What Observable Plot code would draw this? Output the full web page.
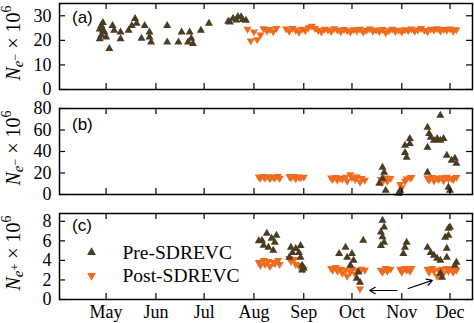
<!DOCTYPE html>
<html><head><meta charset="utf-8">
<script src="https://cdn.jsdelivr.net/npm/d3@7"></script>
<script src="https://cdn.jsdelivr.net/npm/@observablehq/plot@0.6"></script>
<style>
body{margin:0;background:#fff;}
#chart{width:474px;height:323px;overflow:hidden;}
#chart svg{display:block;}
</style></head><body><div id="chart"></div>
<script>
const YEAR = 2019;
const BROWN = "#4a3c22";
const ORANGE = "#f06b1d";
const seriesNames = ["Pre-SDREVC", "Post-SDREVC"];
const panelLabels = ["(a)", "(b)", "(c)"];
const monthTicks = ["05-01","06-01","07-01","08-01","09-01","10-01","11-01","12-01"];
const xDomainStr = ["04-02","12-15"];
const yTicksA = [0,10,20,30];
const yTicksB = [0,20,40,60,80];
const yTicksC = [0,2,4,6,8];
const yDomainA = [0,35];
const yDomainB = [0,80];
const yDomainC = [0,8.8];

// Panel (a): N_e- pre
const preADates = ["04-27","04-27","04-28","04-28","04-29","04-29","04-30","05-01","05-03","05-05","05-06","05-10","05-10","05-15","05-17","05-19","05-20","05-23","05-25","05-28","05-28","05-29","06-08","06-08","06-15","06-17","06-21","06-22","06-23","06-24","06-29","07-04","07-16","07-17","07-19","07-21","07-22","07-24","07-25","07-27"];
const preAValues = [20.6,24.6,26.0,22.0,24.0,27.2,23.3,21.3,16.6,26.0,24.0,23.3,20.6,24.0,26.0,28.8,26.9,20.8,26.0,21.3,23.3,19.3,26.0,19.3,19.3,23.3,19.3,23.3,20.8,18.7,24.0,26.9,27.7,27.4,28.9,28.2,29.6,29.5,28.4,28.1];
// Panel (a): N_e- post
const postADates = ["07-28","07-30","08-01","08-03","08-05","08-07","08-09","08-11","08-13","08-15","08-21","08-23","08-25","08-27","08-29","08-31","09-02","09-04","09-06","09-08","09-10","09-12","09-14","09-16","09-18","09-20","09-22","09-24","09-26","09-28","09-30","10-02","10-04","10-06","10-08","10-10","10-12","10-14","10-16","10-18","10-20","10-22","10-24","10-26","10-28","10-30","11-01","11-03","11-05","11-07","11-09","11-11","11-13","11-15","11-17","11-19","11-21","11-23","11-25","11-27","11-29","12-01","12-03","12-05"];
const postAValues = [24.6,19.8,23.5,20.3,22.2,24.8,23.9,24.5,23.6,24.9,24.7,23.8,24.9,24.2,23.4,24.6,24.0,25.2,25.8,24.9,24.1,23.5,24.6,24.3,23.7,24.8,24.2,23.6,24.5,24.0,23.5,24.4,23.9,24.6,23.4,24.1,24.7,23.8,24.3,23.6,24.5,23.2,24.0,24.6,23.7,24.2,23.5,24.4,24.0,24.7,23.8,24.3,24.9,24.1,23.6,24.6,24.2,24.8,23.9,24.5,24.2,24.7,23.8,24.4];

// Panel (b): N_e- pre
const preBDates = ["10-18","10-20","10-21","10-20","10-22","10-30","10-31","11-03","11-03","11-04","11-06","11-06","11-17","11-18","11-19","11-17","11-17","11-21","11-23","11-25","11-27","11-25","11-29","12-02","12-04","12-05","11-30","12-01"];
const preBValues = [10.2,25.1,20.5,14.9,3.7,0.9,3.7,45.6,39.0,34.4,52.0,47.4,62.3,56.7,53.0,43.7,20.5,50.2,52.0,50.2,52.0,73.5,36.3,31.6,33.5,28.8,6.5,3.7];

// Panels (b) and (c): post dates
const postBCDates = ["08-04","08-05","08-07","08-08","08-10","08-11","08-13","08-14","08-16","08-17",
  "08-23","08-24","08-26","08-27","08-29","08-30","09-01",
  "09-18","09-19","09-21","09-22","09-24","09-25","09-27","09-28","09-30","10-01","10-03","10-04","10-06","10-07","10-09",
  "10-19","10-20","10-22","10-23","10-25",
  "10-31","11-01","11-03","11-04","11-06","11-07",
  "11-17","11-18","11-20","11-21","11-23","11-24","11-26","11-27","11-29","11-30","12-02","12-03","12-05"];
const postBValues = [16.5,15.2,16.8,15.5,16.6,14.8,16.4,15.6,16.9,15.0,
  17.0,15.5,16.8,14.9,16.5,15.8,16.2,
  15.5,14.0,16.0,13.5,15.2,14.5,16.2,12.5,18.5,15.8,14.0,16.5,11.5,15.0,13.5,
  14.0,11.5,15.5,12.5,15.0,
  9.5,6.5,12.5,14.5,15.5,16.0,
  15.5,13.5,16.0,12.8,15.2,14.0,15.8,13.0,16.2,14.5,15.0,13.8,16.0];
const postCValues = [3.8,3.5,4.0,3.6,3.9,3.4,3.8,3.7,4.0,3.6,
  4.2,3.9,4.1,3.6,3.5,3.2,3.1,
  3.2,3.0,3.3,2.9,3.1,2.7,3.0,2.4,2.8,3.1,2.6,3.0,1.1,3.1,3.0,
  3.0,2.8,3.2,2.9,3.1,
  3.1,2.8,3.2,3.0,2.9,3.2,
  3.1,2.8,3.2,2.9,2.4,3.0,3.1,2.7,3.2,2.9,3.1,2.8,3.0];

// Panel (c): N_e+ pre
const preCDates = ["08-04","08-06","08-07","08-09","08-10","08-12","08-13","08-14","08-15",
  "08-23","08-24","08-25","08-27","08-29","08-30","08-31","08-31","08-30","09-01",
  "09-23","09-27","09-28","09-30","10-01","10-02","10-04","10-05","10-06","10-08",
  "10-19","10-19","10-20","10-20","10-21","10-21",
  "11-02","11-03","11-04",
  "11-17","11-19","11-21","11-23","11-25","11-25","11-26","11-28","11-29","11-29","11-30","11-30","12-01","12-04","12-05"];
const preCValues = [6.0,6.05,5.54,6.77,5.33,6.26,5.03,5.85,6.56,
  4.3,5.33,4.8,5.2,4.8,4.3,3.5,3.0,5.5,3.2,
  4.7,5.33,4.3,3.5,4.7,4.0,2.15,2.8,1.74,6.05,
  6.9,5.5,8.1,6.4,7.4,5.85,
  4.7,5.33,5.85,
  5.33,4.8,4.5,4.2,4.0,2.67,2.26,6.36,5.23,4.3,7.28,6.56,7.4,3.5,3.8];

// Panel (c) annotation arrows
const arrowFromDates = ["10-29","11-05"];
const arrowFromValues = [0.92,1.13];
const arrowToDates = ["10-12","11-20"];
const arrowToValues = [0.92,1.95];

const parse = s => new Date(Date.UTC(YEAR, +s.slice(0,2) - 1, +s.slice(3)));
const rows = (ds, vs) => ds.map((d, i) => ({date: parse(d), value: vs[i]}));
const monthDates = monthTicks.map(parse);
const xDomain = xDomainStr.map(parse);

const W = 474, ML = 59, MR = 2;
const serif = "Liberation Serif";
const sans = "Liberation Sans";

function panel(o) {
  const frameH = o.height - o.marginTop - o.marginBottom;
  const frameW = W - ML - MR;
  const marks = [
    Plot.dot(o.post, {x: "date", y: "value", symbol: "triangle", rotate: 180, r: 3, fill: ORANGE}),
    Plot.dot(o.pre, {x: "date", y: "value", symbol: "triangle", r: 3, fill: BROWN}),
    Plot.ruleX(monthDates, {x: d => d, insetBottom: frameH - 6, stroke: "#000", strokeWidth: 1.2}),
    Plot.ruleX(monthDates, {x: d => d, insetTop: frameH - 6, stroke: "#000", strokeWidth: 1.2}),
    Plot.ruleY(o.yTicks, {y: d => d, insetRight: frameW - 6, stroke: "#000", strokeWidth: 1.2}),
    Plot.ruleY(o.yTicks, {y: d => d, insetLeft: frameW - 6, stroke: "#000", strokeWidth: 1.2}),
    Plot.frame({stroke: "#000", strokeWidth: 1.5}),
    ...(o.extra || [])
  ];
  const svg = Plot.plot({
    width: W, height: o.height,
    marginTop: o.marginTop, marginBottom: o.marginBottom, marginLeft: ML, marginRight: MR,
    style: {color: "#000", background: "#fff", overflow: "visible"},
    x: {type: "utc", domain: xDomain, axis: o.showX ? "bottom" : null, ticks: monthDates, tickFormat: d3.utcFormat("%b"), tickSize: 0, tickPadding: 6, label: null},
    y: {domain: o.yDomain, ticks: o.yTicks, tickSize: 0, tickPadding: 8, label: null},
    marks
  });
  const s = d3.select(svg);
  s.attr("font-family", serif).attr("font-size", 18);
  s.selectAll("text").style("font-family", serif).style("font-size", "18px").attr("fill", "#000");
  s.selectAll("text").filter(function() { return seriesNames.includes(this.textContent); }).style("font-size", "19.5px");
  // panel letter
  s.append("text")
    .attr("x", ML + 13).attr("y", o.marginTop + o.labelDy)
    .attr("text-anchor", "start")
    .attr("dominant-baseline", "middle")
    .style("font-family", sans).style("font-size", "17px").attr("fill", "#000")
    .text(o.label);
  // rotated y label with sub/superscripts
  const cy = o.marginTop + frameH / 2 - 3;
  const t = s.append("text")
    .attr("transform", `translate(15,${cy}) rotate(-90)`)
    .attr("text-anchor", "middle")
    .attr("dominant-baseline", "middle")
    .style("font-family", serif)
    .style("font-size", "20px")
    .attr("fill", "#000");
  t.append("tspan").attr("font-style", "italic").text("N");
  t.append("tspan").attr("font-style", "italic").attr("font-size", 15).attr("dy", 5).text("e");
  t.append("tspan").attr("font-size", 12).attr("dy", -4).text(o.sign);
  t.append("tspan").attr("dy", -1).text(" \u00d7 10");
  t.append("tspan").attr("font-size", 14).attr("dy", -7).text("6");
  return svg;
}

const legendMarks = [
  Plot.dot([seriesNames[0]], {x: null, y: null, frameAnchor: "top-left", dx: 32, dy: 39, symbol: "triangle", r: 3.3, fill: BROWN}),
  Plot.dot([seriesNames[1]], {x: null, y: null, frameAnchor: "top-left", dx: 32, dy: 62, symbol: "triangle", rotate: 180, r: 3.3, fill: ORANGE}),
  Plot.text([seriesNames[0]], {frameAnchor: "top-left", dx: 63, dy: 39, textAnchor: "start", lineAnchor: "middle", fill: "#000"}),
  Plot.text([seriesNames[1]], {frameAnchor: "top-left", dx: 63, dy: 62, textAnchor: "start", lineAnchor: "middle", fill: "#000"}),
  Plot.arrow([0, 1], {
    x1: i => parse(arrowFromDates[i]), y1: i => arrowFromValues[i],
    x2: i => parse(arrowToDates[i]), y2: i => arrowToValues[i],
    stroke: "#000", strokeWidth: 1.2, headLength: 8
  })
];

const chart = document.getElementById("chart");
chart.append(panel({height: 96, marginTop: 3, marginBottom: 7, yDomain: yDomainA, yTicks: yTicksA,
  pre: rows(preADates, preAValues), post: rows(postADates, postAValues), label: panelLabels[0], labelDy: 16, sign: "\u2212", showX: false}));
chart.append(panel({height: 106, marginTop: 12, marginBottom: 8, yDomain: yDomainB, yTicks: yTicksB,
  pre: rows(preBDates, preBValues), post: rows(postBCDates, postBValues), label: panelLabels[1], labelDy: 18, sign: "\u2212", showX: false}));
chart.append(panel({height: 121, marginTop: 11, marginBottom: 24, yDomain: yDomainC, yTicks: yTicksC,
  pre: rows(preCDates, preCValues), post: rows(postBCDates, postCValues), label: panelLabels[2], labelDy: 14, sign: "+", showX: true, extra: legendMarks}));
</script>
</body></html>
